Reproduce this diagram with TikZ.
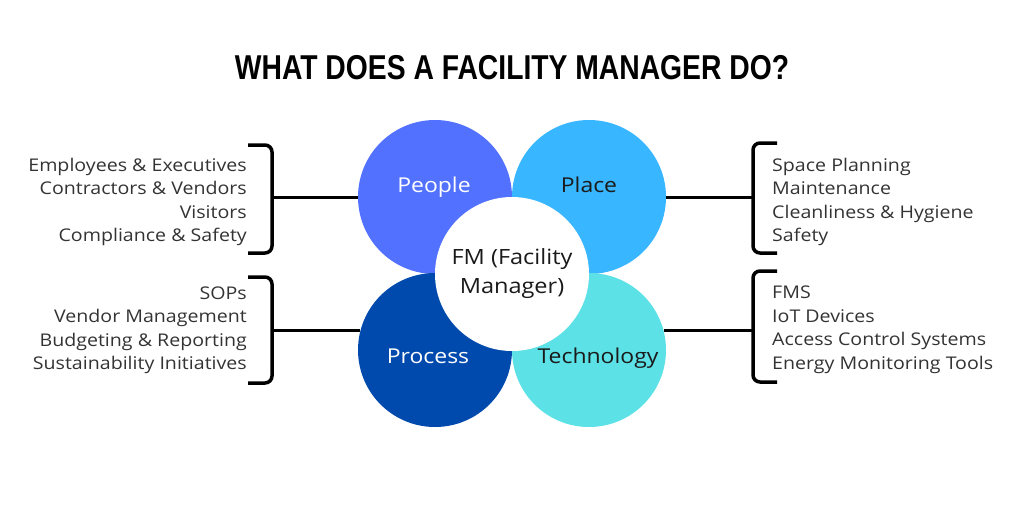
\documentclass[tikz,border=0pt]{standalone}
\usepackage{fontspec}
\setmainfont[FakeStretch=1.12]{Open Sans}
\newfontfamily\titlefont[FakeStretch=0.82]{Liberation Sans}
\usepackage{xcolor}
\usepackage{tikz}
\usetikzlibrary{positioning}

\definecolor{peoplec}{HTML}{5271FF}
\definecolor{placec}{HTML}{38B6FF}
\definecolor{processc}{HTML}{004AAD}
\definecolor{techc}{HTML}{5CE1E6}
\definecolor{itemgray}{HTML}{333333}
\definecolor{darktxt}{HTML}{1A1A1A}

\begin{document}
\begin{tikzpicture}[
  x=1pt, y=-1pt,
  petal/.style={circle, minimum size=154pt, inner sep=0pt},
  petaltxt/.style={anchor=base, font=\fontsize{20.5}{24}\selectfont},
  items/.style={inner sep=0pt, text=itemgray, font=\fontsize{17.5}{23.5}\selectfont},
  brk/.style={line width=3.5pt, rounded corners=7pt},
  link/.style={line width=3pt}
]
\useasboundingbox (0,0) rectangle (1024,512);

\node[font=\titlefont\bfseries\fontsize{34.5}{40}\selectfont] (title) at (512,68)
  {WHAT DOES A FACILITY MANAGER DO?};

% the four petals
\node[petal, fill=peoplec]  (people)  at (435,197) {};
\node[petal, fill=placec]   (place)   at (589,197) {};
\node[petal, fill=processc] (process) at (435,350) {};
\node[petal, fill=techc]    (tech)    at (589,350) {};
\node[petaltxt, text=white]   (peoplelbl)  at (434,192) {People};
\node[petaltxt, text=darktxt] (placelbl)   at (589,192) {Place};
\node[petaltxt, text=white]   (processlbl) at (428,363) {Process};
\node[petaltxt, text=darktxt] (techlbl)    at (598,363) {Technology};

% centre
\node[petal, fill=white, align=center, text=darktxt,
      font=\fontsize{21}{29}\selectfont] (fm) at (512,274) {FM (Facility\\Manager)};

% brackets
\draw[brk] (248,145) -| (272,253) -- (248,253);
\draw[brk] (248,277) -| (272,383) -- (248,383);
\draw[brk] (777,143) -| (753,253) -- (777,253);
\draw[brk] (777,271) -| (753,382) -- (777,382);
\coordinate (peoplebrk)  at (272,197);
\coordinate (processbrk) at (272,330);
\coordinate (placebrk)   at (753,197);
\coordinate (techbrk)    at (753,330);
\draw[link] (people)  -- (peoplebrk);
\draw[link] (place)   -- (placebrk);
\draw[link] (process.165) -- (process.165 -| processbrk);
\draw[link] (tech.15)     -- (tech.15 -| techbrk);

% lists
\node[items, align=right, anchor=east] (peoplelist) at (247,202)
  {Employees \& Executives\\Contractors \& Vendors\\Visitors\\Compliance \& Safety};
\node[items, align=right, anchor=east] (processlist) at (247,330)
  {SOPs\\Vendor Management\\Budgeting \& Reporting\\Sustainability Initiatives};
\node[items, align=left, anchor=west] (placelist) at (772,202)
  {Space Planning\\Maintenance\\Cleanliness \& Hygiene\\Safety};
\node[items, align=left, anchor=west] (techlist) at (772,330)
  {FMS\\IoT Devices\\Access Control Systems\\Energy Monitoring Tools};
\end{tikzpicture}
\end{document}
